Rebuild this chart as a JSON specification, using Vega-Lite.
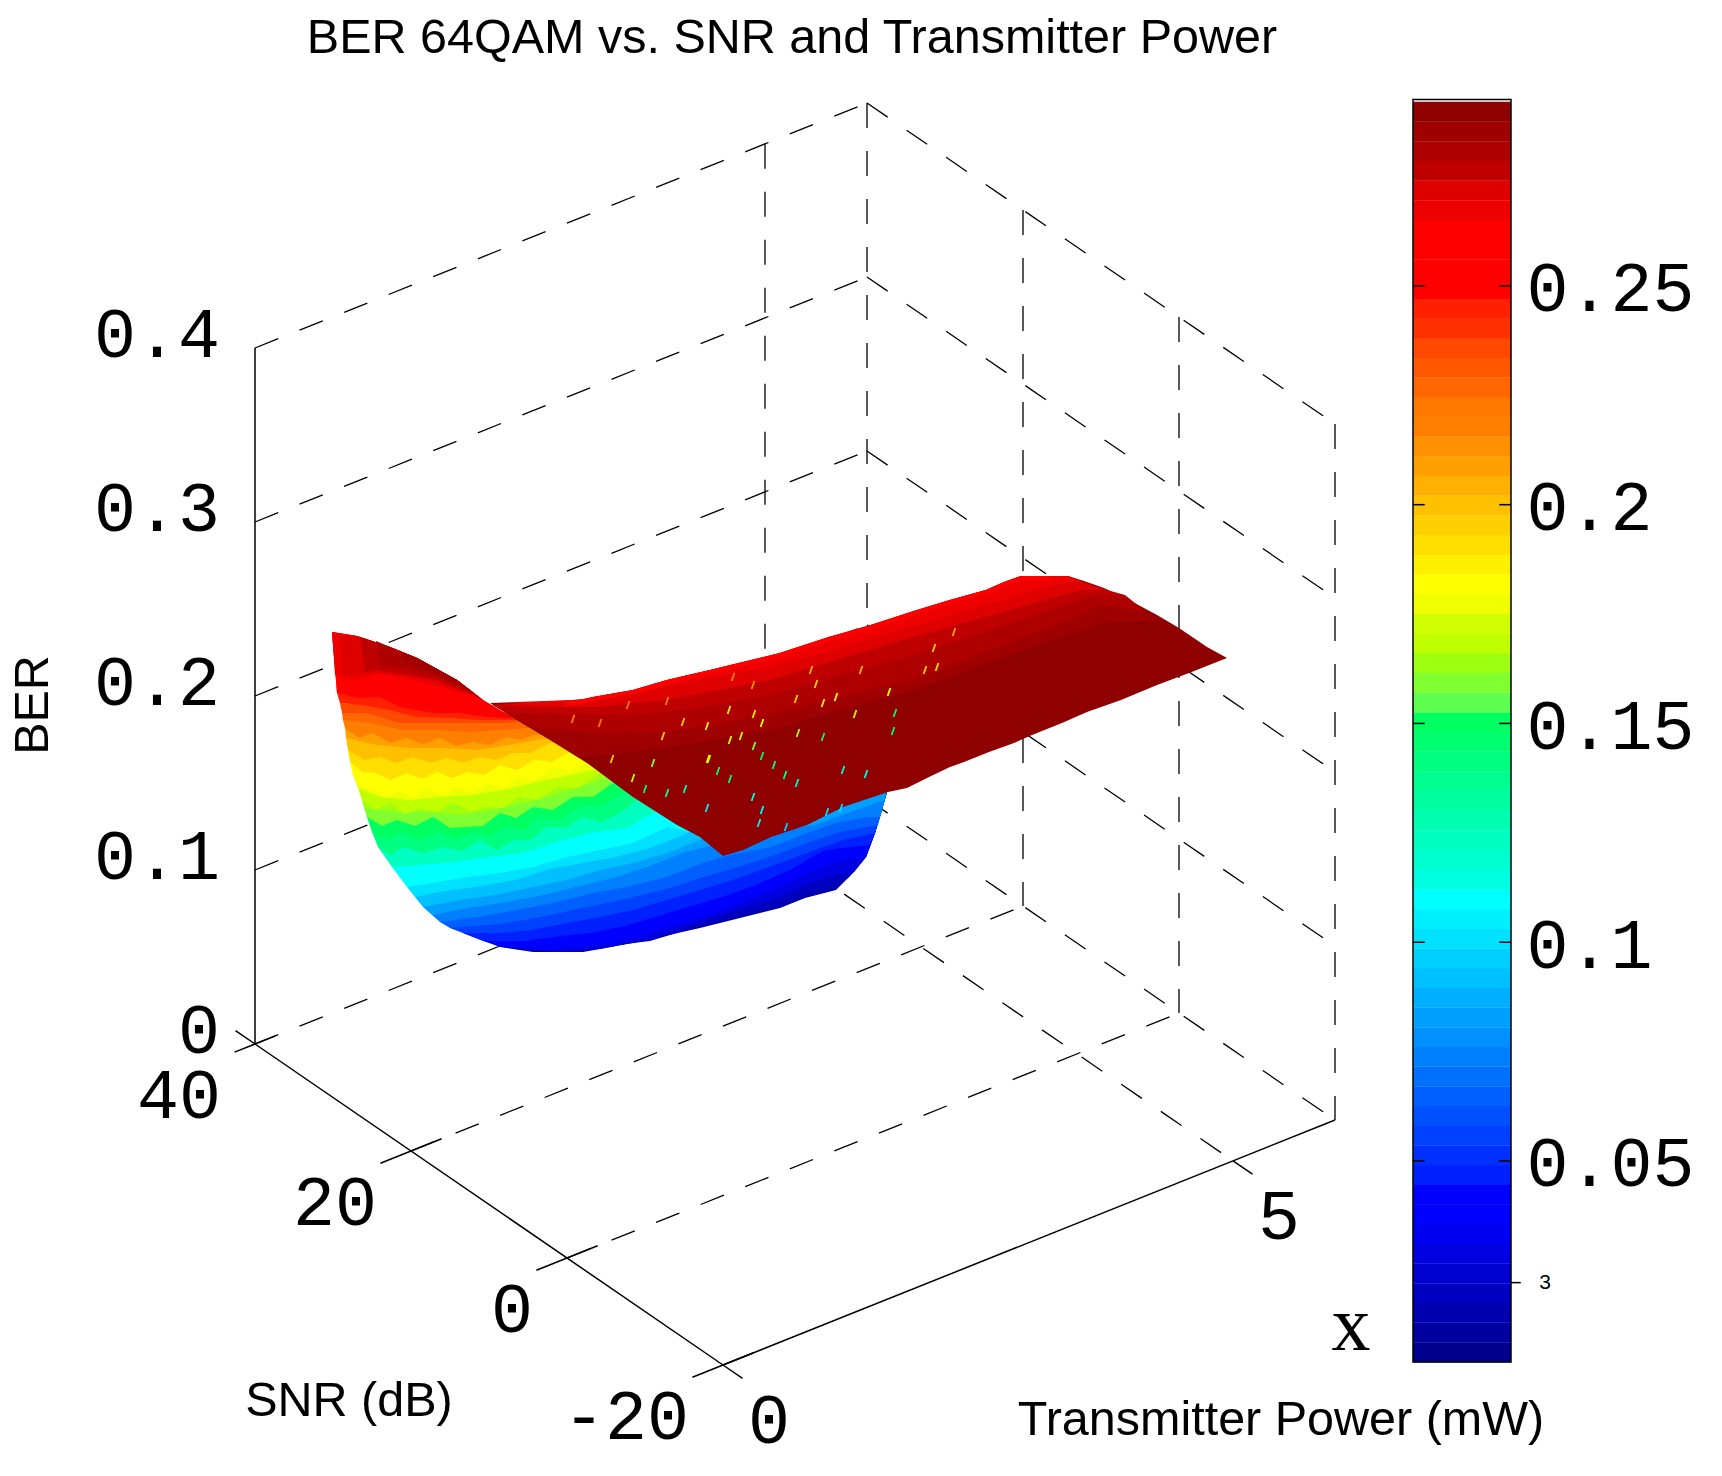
{"$schema":"https://vega.github.io/schema/vega-lite/v6.json","width":1722,"height":1476,"padding":0,"autosize":"none","background":"white","config":{"view":{"stroke":null}},
"title":{"text":"BER 64QAM vs. SNR and Transmitter Power","font":"Liberation Sans","fontSize":48.5,"fontWeight":"normal","color":"black","anchor":"middle","dx":-69,"offset":-63},
"datasets":{"frame":[
{"kind":"dash","line":"w0","power":0,"snr":40,"ber":0},{"kind":"dash","line":"w0","power":6,"snr":40,"ber":0},
{"kind":"dash","line":"w1","power":0,"snr":40,"ber":0.1},{"kind":"dash","line":"w1","power":6,"snr":40,"ber":0.1},
{"kind":"dash","line":"w2","power":0,"snr":40,"ber":0.2},{"kind":"dash","line":"w2","power":6,"snr":40,"ber":0.2},
{"kind":"dash","line":"w3","power":0,"snr":40,"ber":0.3},{"kind":"dash","line":"w3","power":6,"snr":40,"ber":0.3},
{"kind":"dash","line":"w4","power":0,"snr":40,"ber":0.4},{"kind":"dash","line":"w4","power":6,"snr":40,"ber":0.4},
{"kind":"dash","line":"r1","power":6,"snr":40,"ber":0.1},{"kind":"dash","line":"r1","power":6,"snr":-20,"ber":0.1},
{"kind":"dash","line":"r2","power":6,"snr":40,"ber":0.2},{"kind":"dash","line":"r2","power":6,"snr":-20,"ber":0.2},
{"kind":"dash","line":"r3","power":6,"snr":40,"ber":0.3},{"kind":"dash","line":"r3","power":6,"snr":-20,"ber":0.3},
{"kind":"dash","line":"r4","power":6,"snr":40,"ber":0.4},{"kind":"dash","line":"r4","power":6,"snr":-20,"ber":0.4},
{"kind":"dash","line":"v1","power":5,"snr":40,"ber":0.4},{"kind":"dash","line":"v1","power":5,"snr":40,"ber":0},
{"kind":"dash","line":"v2","power":6,"snr":40,"ber":0.4},{"kind":"dash","line":"v2","power":6,"snr":40,"ber":0},
{"kind":"dash","line":"v3","power":6,"snr":20,"ber":0.4},{"kind":"dash","line":"v3","power":6,"snr":20,"ber":0},
{"kind":"dash","line":"v4","power":6,"snr":0,"ber":0.4},{"kind":"dash","line":"v4","power":6,"snr":0,"ber":0},
{"kind":"dash","line":"v5","power":6,"snr":-20,"ber":0.4},{"kind":"dash","line":"v5","power":6,"snr":-20,"ber":0},
{"kind":"dash","line":"f1","power":0,"snr":20,"ber":0},{"kind":"dash","line":"f1","power":6,"snr":20,"ber":0},
{"kind":"dash","line":"f2","power":0,"snr":0,"ber":0},{"kind":"dash","line":"f2","power":6,"snr":0,"ber":0},
{"kind":"dash","line":"f3","power":5,"snr":40,"ber":0},{"kind":"dash","line":"f3","power":5,"snr":-20,"ber":0},
{"kind":"dash","line":"f4","power":6,"snr":40,"ber":0},{"kind":"dash","line":"f4","power":6,"snr":-20,"ber":0},
{"kind":"solid","line":"az","power":0,"snr":40,"ber":0},{"kind":"solid","line":"az","power":0,"snr":40,"ber":0.4},
{"kind":"solid","line":"as","power":0,"snr":40,"ber":0},{"kind":"solid","line":"as","power":0,"snr":-20,"ber":0},
{"kind":"solid","line":"ap","power":0,"snr":-20,"ber":0},{"kind":"solid","line":"ap","power":6,"snr":-20,"ber":0},
{"kind":"solid","line":"t1","power":-0.2,"snr":40,"ber":0},{"kind":"solid","line":"t1","power":0.2,"snr":40,"ber":0},
{"kind":"solid","line":"t2","power":-0.3,"snr":20,"ber":0},{"kind":"solid","line":"t2","power":0.3,"snr":20,"ber":0},
{"kind":"solid","line":"t3","power":-0.3,"snr":0,"ber":0},{"kind":"solid","line":"t3","power":0.3,"snr":0,"ber":0},
{"kind":"solid","line":"t4","power":-0.3,"snr":-20,"ber":0},{"kind":"solid","line":"t4","power":0.3,"snr":-20,"ber":0},
{"kind":"solid","line":"t5","power":0,"snr":42.5,"ber":0},{"kind":"solid","line":"t5","power":0,"snr":40,"ber":0},
{"kind":"solid","line":"t6","power":0,"snr":-22.5,"ber":0},{"kind":"solid","line":"t6","power":0,"snr":-20,"ber":0},
{"kind":"solid","line":"t7","power":5,"snr":-22.5,"ber":0},{"kind":"solid","line":"t7","power":5,"snr":-20,"ber":0},
{"kind":"berLabel","label":"0","power":0,"snr":40,"ber":0},{"kind":"berLabel","label":"0.1","power":0,"snr":40,"ber":0.1},{"kind":"berLabel","label":"0.2","power":0,"snr":40,"ber":0.2},{"kind":"berLabel","label":"0.3","power":0,"snr":40,"ber":0.3},{"kind":"berLabel","label":"0.4","power":0,"snr":40,"ber":0.4},
{"kind":"snrLabel","label":"40","power":0,"snr":40,"ber":0},{"kind":"snrLabel","label":"20","power":0,"snr":20,"ber":0},{"kind":"snrLabel","label":"0","power":0,"snr":0,"ber":0},{"kind":"snrLabel","label":"-20","power":0,"snr":-20,"ber":0},
{"kind":"powLabel","label":"0","power":0,"snr":-20,"ber":0},{"kind":"powLabel","label":"5","power":5,"snr":-20,"ber":0},
{"kind":"mult","label":"x","power":6,"snr":-20,"ber":0},
{"kind":"snrTitle","label":"SNR (dB)","power":0,"snr":10,"ber":0},
{"kind":"powTitle","label":"Transmitter Power (mW)","power":3,"snr":-20,"ber":0},
{"kind":"berTitle","label":"BER","power":0,"snr":40,"ber":0.2}
],
"surface":[
{"band":"b03","ber":0.0153,"px":463,"py":933},{"band":"b03","ber":0.0153,"px":500,"py":947},{"band":"b03","ber":0.0153,"px":533,"py":952},{"band":"b03","ber":0.0153,"px":583,"py":952},{"band":"b03","ber":0.0153,"px":633,"py":943},{"band":"b03","ber":0.0153,"px":700,"py":928},{"band":"b03","ber":0.0153,"px":780,"py":908},{"band":"b03","ber":0.0153,"px":805,"py":898},{"band":"b03","ber":0.0153,"px":836,"py":890},{"band":"b03","ber":0.0153,"px":854,"py":872},{"band":"b03","ber":0.0153,"px":866,"py":857},{"band":"b03","ber":0.0153,"px":875,"py":833},{"band":"b03","ber":0.0153,"px":887,"py":792},{"band":"b03","ber":0.0153,"px":887,"py":720},{"band":"b03","ber":0.0153,"px":500,"py":712},
{"band":"b04","ber":0.0198,"px":650,"py":941},{"band":"b04","ber":0.0198,"px":700,"py":926},{"band":"b04","ber":0.0198,"px":733,"py":917},{"band":"b04","ber":0.0198,"px":780,"py":904},{"band":"b04","ber":0.0198,"px":807,"py":893},{"band":"b04","ber":0.0198,"px":836,"py":885},{"band":"b04","ber":0.0198,"px":848,"py":878},{"band":"b04","ber":0.0198,"px":866,"py":857},{"band":"b04","ber":0.0198,"px":875,"py":833},{"band":"b04","ber":0.0198,"px":887,"py":792},{"band":"b04","ber":0.0198,"px":887,"py":720},{"band":"b04","ber":0.0198,"px":500,"py":712},{"band":"b04","ber":0.0198,"px":560,"py":952},
{"band":"b06","ber":0.0288,"px":560,"py":952},{"band":"b06","ber":0.0288,"px":600,"py":949},{"band":"b06","ber":0.0288,"px":650,"py":939},{"band":"b06","ber":0.0288,"px":700,"py":922},{"band":"b06","ber":0.0288,"px":733,"py":911},{"band":"b06","ber":0.0288,"px":780,"py":897},{"band":"b06","ber":0.0288,"px":807,"py":884},{"band":"b06","ber":0.0288,"px":836,"py":875},{"band":"b06","ber":0.0288,"px":854,"py":872},{"band":"b06","ber":0.0288,"px":866,"py":857},{"band":"b06","ber":0.0288,"px":875,"py":833},{"band":"b06","ber":0.0288,"px":887,"py":792},{"band":"b06","ber":0.0288,"px":887,"py":720},{"band":"b06","ber":0.0288,"px":500,"py":712},{"band":"b06","ber":0.0288,"px":503,"py":947},
{"band":"b09","ber":0.0423,"px":503,"py":947},{"band":"b09","ber":0.0423,"px":550,"py":950},{"band":"b09","ber":0.0423,"px":583,"py":947},{"band":"b09","ber":0.0423,"px":617,"py":943},{"band":"b09","ber":0.0423,"px":650,"py":933},{"band":"b09","ber":0.0423,"px":683,"py":923},{"band":"b09","ber":0.0423,"px":717,"py":913},{"band":"b09","ber":0.0423,"px":747,"py":900},{"band":"b09","ber":0.0423,"px":780,"py":887},{"band":"b09","ber":0.0423,"px":807,"py":873},{"band":"b09","ber":0.0423,"px":843,"py":860},{"band":"b09","ber":0.0423,"px":866,"py":857},{"band":"b09","ber":0.0423,"px":875,"py":833},{"band":"b09","ber":0.0423,"px":887,"py":792},{"band":"b09","ber":0.0423,"px":887,"py":720},{"band":"b09","ber":0.0423,"px":500,"py":712},{"band":"b09","ber":0.0423,"px":483,"py":941},
{"band":"b10","ber":0.0468,"px":483,"py":941},{"band":"b10","ber":0.0468,"px":525,"py":941},{"band":"b10","ber":0.0468,"px":560,"py":936},{"band":"b10","ber":0.0468,"px":590,"py":933},{"band":"b10","ber":0.0468,"px":625,"py":926},{"band":"b10","ber":0.0468,"px":658,"py":916},{"band":"b10","ber":0.0468,"px":692,"py":906},{"band":"b10","ber":0.0468,"px":725,"py":896},{"band":"b10","ber":0.0468,"px":756,"py":885},{"band":"b10","ber":0.0468,"px":790,"py":870},{"band":"b10","ber":0.0468,"px":825,"py":850},{"band":"b10","ber":0.0468,"px":870,"py":845},{"band":"b10","ber":0.0468,"px":875,"py":833},{"band":"b10","ber":0.0468,"px":887,"py":792},{"band":"b10","ber":0.0468,"px":887,"py":720},{"band":"b10","ber":0.0468,"px":500,"py":712},{"band":"b10","ber":0.0468,"px":463,"py":933},
{"band":"b12","ber":0.0558,"px":463,"py":933},{"band":"b12","ber":0.0558,"px":500,"py":933},{"band":"b12","ber":0.0558,"px":533,"py":930},{"band":"b12","ber":0.0558,"px":567,"py":923},{"band":"b12","ber":0.0558,"px":600,"py":917},{"band":"b12","ber":0.0558,"px":633,"py":910},{"band":"b12","ber":0.0558,"px":667,"py":900},{"band":"b12","ber":0.0558,"px":700,"py":890},{"band":"b12","ber":0.0558,"px":733,"py":880},{"band":"b12","ber":0.0558,"px":780,"py":863},{"band":"b12","ber":0.0558,"px":807,"py":853},{"band":"b12","ber":0.0558,"px":843,"py":840},{"band":"b12","ber":0.0558,"px":875,"py":833},{"band":"b12","ber":0.0558,"px":887,"py":792},{"band":"b12","ber":0.0558,"px":887,"py":720},{"band":"b12","ber":0.0558,"px":500,"py":712},{"band":"b12","ber":0.0558,"px":450,"py":928},
{"band":"b14","ber":0.0648,"px":450,"py":928},{"band":"b14","ber":0.0648,"px":490,"py":925},{"band":"b14","ber":0.0648,"px":525,"py":920},{"band":"b14","ber":0.0648,"px":560,"py":913},{"band":"b14","ber":0.0648,"px":597,"py":905},{"band":"b14","ber":0.0648,"px":630,"py":898},{"band":"b14","ber":0.0648,"px":667,"py":889},{"band":"b14","ber":0.0648,"px":703,"py":877},{"band":"b14","ber":0.0648,"px":735,"py":868},{"band":"b14","ber":0.0648,"px":775,"py":855},{"band":"b14","ber":0.0648,"px":807,"py":843},{"band":"b14","ber":0.0648,"px":840,"py":832},{"band":"b14","ber":0.0648,"px":878,"py":825},{"band":"b14","ber":0.0648,"px":887,"py":792},{"band":"b14","ber":0.0648,"px":887,"py":720},{"band":"b14","ber":0.0648,"px":500,"py":712},{"band":"b14","ber":0.0648,"px":440,"py":922},
{"band":"b16","ber":0.0738,"px":440,"py":922},{"band":"b16","ber":0.0738,"px":477,"py":917},{"band":"b16","ber":0.0738,"px":517,"py":910},{"band":"b16","ber":0.0738,"px":553,"py":903},{"band":"b16","ber":0.0738,"px":593,"py":893},{"band":"b16","ber":0.0738,"px":627,"py":887},{"band":"b16","ber":0.0738,"px":667,"py":877},{"band":"b16","ber":0.0738,"px":703,"py":863},{"band":"b16","ber":0.0738,"px":730,"py":855},{"band":"b16","ber":0.0738,"px":771,"py":847},{"band":"b16","ber":0.0738,"px":807,"py":833},{"band":"b16","ber":0.0738,"px":836,"py":823},{"band":"b16","ber":0.0738,"px":868,"py":817},{"band":"b16","ber":0.0738,"px":880,"py":817},{"band":"b16","ber":0.0738,"px":887,"py":792},{"band":"b16","ber":0.0738,"px":887,"py":720},{"band":"b16","ber":0.0738,"px":500,"py":712},{"band":"b16","ber":0.0738,"px":432,"py":915},
{"band":"b18","ber":0.0828,"px":432,"py":915},{"band":"b18","ber":0.0828,"px":468,"py":908},{"band":"b18","ber":0.0828,"px":507,"py":902},{"band":"b18","ber":0.0828,"px":543,"py":895},{"band":"b18","ber":0.0828,"px":580,"py":886},{"band":"b18","ber":0.0828,"px":613,"py":878},{"band":"b18","ber":0.0828,"px":650,"py":866},{"band":"b18","ber":0.0828,"px":685,"py":852},{"band":"b18","ber":0.0828,"px":715,"py":845},{"band":"b18","ber":0.0828,"px":771,"py":832},{"band":"b18","ber":0.0828,"px":815,"py":825},{"band":"b18","ber":0.0828,"px":850,"py":812},{"band":"b18","ber":0.0828,"px":885,"py":800},{"band":"b18","ber":0.0828,"px":887,"py":720},{"band":"b18","ber":0.0828,"px":500,"py":712},{"band":"b18","ber":0.0828,"px":423,"py":907},
{"band":"b20","ber":0.0918,"px":423,"py":907},{"band":"b20","ber":0.0918,"px":460,"py":900},{"band":"b20","ber":0.0918,"px":497,"py":895},{"band":"b20","ber":0.0918,"px":533,"py":887},{"band":"b20","ber":0.0918,"px":567,"py":880},{"band":"b20","ber":0.0918,"px":600,"py":870},{"band":"b20","ber":0.0918,"px":633,"py":863},{"band":"b20","ber":0.0918,"px":667,"py":853},{"band":"b20","ber":0.0918,"px":700,"py":840},{"band":"b20","ber":0.0918,"px":887,"py":720},{"band":"b20","ber":0.0918,"px":500,"py":712},{"band":"b20","ber":0.0918,"px":415,"py":897},
{"band":"b22","ber":0.1008,"px":415,"py":897},{"band":"b22","ber":0.1008,"px":446,"py":891},{"band":"b22","ber":0.1008,"px":482,"py":886},{"band":"b22","ber":0.1008,"px":516,"py":880},{"band":"b22","ber":0.1008,"px":550,"py":869},{"band":"b22","ber":0.1008,"px":583,"py":863},{"band":"b22","ber":0.1008,"px":616,"py":857},{"band":"b22","ber":0.1008,"px":650,"py":848},{"band":"b22","ber":0.1008,"px":684,"py":835},{"band":"b22","ber":0.1008,"px":887,"py":720},{"band":"b22","ber":0.1008,"px":500,"py":712},{"band":"b22","ber":0.1008,"px":407,"py":887},
{"band":"b24","ber":0.1098,"px":407,"py":887},{"band":"b24","ber":0.1098,"px":433,"py":883},{"band":"b24","ber":0.1098,"px":467,"py":877},{"band":"b24","ber":0.1098,"px":500,"py":873},{"band":"b24","ber":0.1098,"px":533,"py":867},{"band":"b24","ber":0.1098,"px":567,"py":857},{"band":"b24","ber":0.1098,"px":600,"py":850},{"band":"b24","ber":0.1098,"px":633,"py":843},{"band":"b24","ber":0.1098,"px":667,"py":827},{"band":"b24","ber":0.1098,"px":690,"py":832},{"band":"b24","ber":0.1098,"px":887,"py":720},{"band":"b24","ber":0.1098,"px":500,"py":712},{"band":"b24","ber":0.1098,"px":392,"py":867},
{"band":"b27","ber":0.1233,"px":392,"py":867},{"band":"b27","ber":0.1233,"px":420,"py":865},{"band":"b27","ber":0.1233,"px":455,"py":862},{"band":"b27","ber":0.1233,"px":490,"py":857},{"band":"b27","ber":0.1233,"px":523,"py":853},{"band":"b27","ber":0.1233,"px":557,"py":842},{"band":"b27","ber":0.1233,"px":590,"py":833},{"band":"b27","ber":0.1233,"px":627,"py":828},{"band":"b27","ber":0.1233,"px":655,"py":812},{"band":"b27","ber":0.1233,"px":887,"py":720},{"band":"b27","ber":0.1233,"px":500,"py":712},{"band":"b27","ber":0.1233,"px":378,"py":847},
{"band":"b31","ber":0.1413,"px":378,"py":847},{"band":"b31","ber":0.1413,"px":390,"py":855},{"band":"b31","ber":0.1413,"px":403,"py":847},{"band":"b31","ber":0.1413,"px":423,"py":853},{"band":"b31","ber":0.1413,"px":443,"py":847},{"band":"b31","ber":0.1413,"px":462,"py":851},{"band":"b31","ber":0.1413,"px":480,"py":840},{"band":"b31","ber":0.1413,"px":497,"py":850},{"band":"b31","ber":0.1413,"px":513,"py":840},{"band":"b31","ber":0.1413,"px":530,"py":840},{"band":"b31","ber":0.1413,"px":547,"py":827},{"band":"b31","ber":0.1413,"px":565,"py":828},{"band":"b31","ber":0.1413,"px":583,"py":817},{"band":"b31","ber":0.1413,"px":601,"py":822},{"band":"b31","ber":0.1413,"px":620,"py":813},{"band":"b31","ber":0.1413,"px":637,"py":800},{"band":"b31","ber":0.1413,"px":887,"py":720},{"band":"b31","ber":0.1413,"px":500,"py":712},{"band":"b31","ber":0.1413,"px":372,"py":832},
{"band":"b33","ber":0.1503,"px":372,"py":832},{"band":"b33","ber":0.1503,"px":386,"py":840},{"band":"b33","ber":0.1503,"px":400,"py":833},{"band":"b33","ber":0.1503,"px":419,"py":840},{"band":"b33","ber":0.1503,"px":438,"py":832},{"band":"b33","ber":0.1503,"px":455,"py":840},{"band":"b33","ber":0.1503,"px":473,"py":833},{"band":"b33","ber":0.1503,"px":490,"py":836},{"band":"b33","ber":0.1503,"px":507,"py":827},{"band":"b33","ber":0.1503,"px":523,"py":830},{"band":"b33","ber":0.1503,"px":540,"py":817},{"band":"b33","ber":0.1503,"px":559,"py":820},{"band":"b33","ber":0.1503,"px":578,"py":807},{"band":"b33","ber":0.1503,"px":601,"py":806},{"band":"b33","ber":0.1503,"px":625,"py":792},{"band":"b33","ber":0.1503,"px":887,"py":720},{"band":"b33","ber":0.1503,"px":500,"py":712},{"band":"b33","ber":0.1503,"px":367,"py":817},
{"band":"b35","ber":0.1593,"px":367,"py":817},{"band":"b35","ber":0.1593,"px":382,"py":826},{"band":"b35","ber":0.1593,"px":397,"py":820},{"band":"b35","ber":0.1593,"px":415,"py":826},{"band":"b35","ber":0.1593,"px":433,"py":817},{"band":"b35","ber":0.1593,"px":450,"py":828},{"band":"b35","ber":0.1593,"px":467,"py":827},{"band":"b35","ber":0.1593,"px":483,"py":826},{"band":"b35","ber":0.1593,"px":500,"py":813},{"band":"b35","ber":0.1593,"px":516,"py":818},{"band":"b35","ber":0.1593,"px":533,"py":807},{"band":"b35","ber":0.1593,"px":553,"py":810},{"band":"b35","ber":0.1593,"px":573,"py":797},{"band":"b35","ber":0.1593,"px":593,"py":797},{"band":"b35","ber":0.1593,"px":613,"py":783},{"band":"b35","ber":0.1593,"px":887,"py":720},{"band":"b35","ber":0.1593,"px":500,"py":712},{"band":"b35","ber":0.1593,"px":364,"py":808},
{"band":"b36","ber":0.1638,"px":364,"py":808},{"band":"b36","ber":0.1638,"px":393,"py":812},{"band":"b36","ber":0.1638,"px":427,"py":812},{"band":"b36","ber":0.1638,"px":460,"py":815},{"band":"b36","ber":0.1638,"px":493,"py":810},{"band":"b36","ber":0.1638,"px":527,"py":802},{"band":"b36","ber":0.1638,"px":565,"py":792},{"band":"b36","ber":0.1638,"px":606,"py":778},{"band":"b36","ber":0.1638,"px":887,"py":720},{"band":"b36","ber":0.1638,"px":500,"py":712},{"band":"b36","ber":0.1638,"px":362,"py":800},
{"band":"b37","ber":0.1683,"px":362,"py":800},{"band":"b37","ber":0.1683,"px":376,"py":810},{"band":"b37","ber":0.1683,"px":390,"py":803},{"band":"b37","ber":0.1683,"px":405,"py":814},{"band":"b37","ber":0.1683,"px":420,"py":808},{"band":"b37","ber":0.1683,"px":436,"py":812},{"band":"b37","ber":0.1683,"px":453,"py":803},{"band":"b37","ber":0.1683,"px":470,"py":812},{"band":"b37","ber":0.1683,"px":487,"py":807},{"band":"b37","ber":0.1683,"px":503,"py":808},{"band":"b37","ber":0.1683,"px":520,"py":797},{"band":"b37","ber":0.1683,"px":538,"py":800},{"band":"b37","ber":0.1683,"px":557,"py":787},{"band":"b37","ber":0.1683,"px":578,"py":788},{"band":"b37","ber":0.1683,"px":600,"py":773},{"band":"b37","ber":0.1683,"px":887,"py":720},{"band":"b37","ber":0.1683,"px":500,"py":712},{"band":"b37","ber":0.1683,"px":358,"py":788},
{"band":"b39","ber":0.1773,"px":358,"py":788},{"band":"b39","ber":0.1773,"px":380,"py":797},{"band":"b39","ber":0.1773,"px":410,"py":800},{"band":"b39","ber":0.1773,"px":440,"py":797},{"band":"b39","ber":0.1773,"px":472,"py":795},{"band":"b39","ber":0.1773,"px":503,"py":790},{"band":"b39","ber":0.1773,"px":537,"py":782},{"band":"b39","ber":0.1773,"px":594,"py":770},{"band":"b39","ber":0.1773,"px":887,"py":720},{"band":"b39","ber":0.1773,"px":500,"py":712},{"band":"b39","ber":0.1773,"px":353,"py":775},
{"band":"b40","ber":0.1818,"px":353,"py":775},{"band":"b40","ber":0.1818,"px":361,"py":787},{"band":"b40","ber":0.1818,"px":370,"py":790},{"band":"b40","ber":0.1818,"px":385,"py":798},{"band":"b40","ber":0.1818,"px":400,"py":790},{"band":"b40","ber":0.1818,"px":413,"py":798},{"band":"b40","ber":0.1818,"px":427,"py":787},{"band":"b40","ber":0.1818,"px":442,"py":796},{"band":"b40","ber":0.1818,"px":457,"py":787},{"band":"b40","ber":0.1818,"px":472,"py":792},{"band":"b40","ber":0.1818,"px":487,"py":783},{"band":"b40","ber":0.1818,"px":502,"py":788},{"band":"b40","ber":0.1818,"px":517,"py":777},{"band":"b40","ber":0.1818,"px":535,"py":780},{"band":"b40","ber":0.1818,"px":553,"py":767},{"band":"b40","ber":0.1818,"px":570,"py":771},{"band":"b40","ber":0.1818,"px":587,"py":763},{"band":"b40","ber":0.1818,"px":887,"py":720},{"band":"b40","ber":0.1818,"px":500,"py":712},{"band":"b40","ber":0.1818,"px":350,"py":762},
{"band":"b42","ber":0.1908,"px":350,"py":762},{"band":"b42","ber":0.1908,"px":362,"py":772},{"band":"b42","ber":0.1908,"px":375,"py":773},{"band":"b42","ber":0.1908,"px":391,"py":780},{"band":"b42","ber":0.1908,"px":407,"py":773},{"band":"b42","ber":0.1908,"px":422,"py":779},{"band":"b42","ber":0.1908,"px":437,"py":772},{"band":"b42","ber":0.1908,"px":452,"py":778},{"band":"b42","ber":0.1908,"px":468,"py":772},{"band":"b42","ber":0.1908,"px":484,"py":775},{"band":"b42","ber":0.1908,"px":500,"py":765},{"band":"b42","ber":0.1908,"px":517,"py":770},{"band":"b42","ber":0.1908,"px":535,"py":760},{"band":"b42","ber":0.1908,"px":552,"py":762},{"band":"b42","ber":0.1908,"px":570,"py":752},{"band":"b42","ber":0.1908,"px":887,"py":720},{"band":"b42","ber":0.1908,"px":500,"py":712},{"band":"b42","ber":0.1908,"px":348,"py":750},
{"band":"b44","ber":0.1998,"px":348,"py":750},{"band":"b44","ber":0.1998,"px":364,"py":760},{"band":"b44","ber":0.1998,"px":380,"py":757},{"band":"b44","ber":0.1998,"px":396,"py":763},{"band":"b44","ber":0.1998,"px":413,"py":757},{"band":"b44","ber":0.1998,"px":430,"py":763},{"band":"b44","ber":0.1998,"px":447,"py":758},{"band":"b44","ber":0.1998,"px":463,"py":763},{"band":"b44","ber":0.1998,"px":480,"py":757},{"band":"b44","ber":0.1998,"px":496,"py":760},{"band":"b44","ber":0.1998,"px":513,"py":753},{"band":"b44","ber":0.1998,"px":531,"py":753},{"band":"b44","ber":0.1998,"px":550,"py":743},{"band":"b44","ber":0.1998,"px":887,"py":720},{"band":"b44","ber":0.1998,"px":500,"py":712},{"band":"b44","ber":0.1998,"px":346,"py":738},
{"band":"b46","ber":0.2088,"px":346,"py":738},{"band":"b46","ber":0.2088,"px":377,"py":745},{"band":"b46","ber":0.2088,"px":410,"py":748},{"band":"b46","ber":0.2088,"px":443,"py":748},{"band":"b46","ber":0.2088,"px":477,"py":750},{"band":"b46","ber":0.2088,"px":510,"py":745},{"band":"b46","ber":0.2088,"px":542,"py":739},{"band":"b46","ber":0.2088,"px":887,"py":720},{"band":"b46","ber":0.2088,"px":500,"py":712},{"band":"b46","ber":0.2088,"px":345,"py":728},
{"band":"b48","ber":0.2178,"px":345,"py":728},{"band":"b48","ber":0.2178,"px":359,"py":738},{"band":"b48","ber":0.2178,"px":373,"py":733},{"band":"b48","ber":0.2178,"px":390,"py":743},{"band":"b48","ber":0.2178,"px":407,"py":738},{"band":"b48","ber":0.2178,"px":423,"py":744},{"band":"b48","ber":0.2178,"px":440,"py":738},{"band":"b48","ber":0.2178,"px":456,"py":746},{"band":"b48","ber":0.2178,"px":473,"py":742},{"band":"b48","ber":0.2178,"px":490,"py":745},{"band":"b48","ber":0.2178,"px":507,"py":737},{"band":"b48","ber":0.2178,"px":520,"py":740},{"band":"b48","ber":0.2178,"px":533,"py":735},{"band":"b48","ber":0.2178,"px":887,"py":720},{"band":"b48","ber":0.2178,"px":500,"py":712},{"band":"b48","ber":0.2178,"px":343,"py":720},
{"band":"b50","ber":0.2268,"px":343,"py":720},{"band":"b50","ber":0.2268,"px":370,"py":723},{"band":"b50","ber":0.2268,"px":403,"py":730},{"band":"b50","ber":0.2268,"px":437,"py":730},{"band":"b50","ber":0.2268,"px":470,"py":732},{"band":"b50","ber":0.2268,"px":503,"py":730},{"band":"b50","ber":0.2268,"px":527,"py":728},{"band":"b50","ber":0.2268,"px":887,"py":720},{"band":"b50","ber":0.2268,"px":500,"py":712},{"band":"b50","ber":0.2268,"px":342,"py":713},
{"band":"b52","ber":0.2358,"px":342,"py":713},{"band":"b52","ber":0.2358,"px":367,"py":713},{"band":"b52","ber":0.2358,"px":400,"py":723},{"band":"b52","ber":0.2358,"px":433,"py":723},{"band":"b52","ber":0.2358,"px":467,"py":723},{"band":"b52","ber":0.2358,"px":500,"py":723},{"band":"b52","ber":0.2358,"px":520,"py":722},{"band":"b52","ber":0.2358,"px":887,"py":720},{"band":"b52","ber":0.2358,"px":500,"py":712},{"band":"b52","ber":0.2358,"px":340,"py":703},
{"band":"b54","ber":0.2448,"px":340,"py":703},{"band":"b54","ber":0.2448,"px":362,"py":705},{"band":"b54","ber":0.2448,"px":390,"py":710},{"band":"b54","ber":0.2448,"px":417,"py":717},{"band":"b54","ber":0.2448,"px":450,"py":718},{"band":"b54","ber":0.2448,"px":480,"py":720},{"band":"b54","ber":0.2448,"px":517,"py":720},{"band":"b54","ber":0.2448,"px":483,"py":700},{"band":"b54","ber":0.2448,"px":457,"py":680},{"band":"b54","ber":0.2448,"px":417,"py":658},{"band":"b54","ber":0.2448,"px":390,"py":647},{"band":"b54","ber":0.2448,"px":357,"py":636},{"band":"b54","ber":0.2448,"px":332,"py":632},{"band":"b54","ber":0.2448,"px":337,"py":693},
{"band":"b55","ber":0.2493,"px":337,"py":693},{"band":"b55","ber":0.2493,"px":358,"py":698},{"band":"b55","ber":0.2493,"px":380,"py":697},{"band":"b55","ber":0.2493,"px":400,"py":707},{"band":"b55","ber":0.2493,"px":433,"py":713},{"band":"b55","ber":0.2493,"px":460,"py":713},{"band":"b55","ber":0.2493,"px":487,"py":717},{"band":"b55","ber":0.2493,"px":513,"py":718},{"band":"b55","ber":0.2493,"px":483,"py":700},{"band":"b55","ber":0.2493,"px":457,"py":680},{"band":"b55","ber":0.2493,"px":417,"py":658},{"band":"b55","ber":0.2493,"px":390,"py":647},{"band":"b55","ber":0.2493,"px":357,"py":636},{"band":"b55","ber":0.2493,"px":332,"py":632},
{"band":"b59","ber":0.2673,"px":335,"py":675},{"band":"b59","ber":0.2673,"px":357,"py":681},{"band":"b59","ber":0.2673,"px":377,"py":673},{"band":"b59","ber":0.2673,"px":400,"py":678},{"band":"b59","ber":0.2673,"px":433,"py":685},{"band":"b59","ber":0.2673,"px":467,"py":695},{"band":"b59","ber":0.2673,"px":483,"py":700},{"band":"b59","ber":0.2673,"px":457,"py":680},{"band":"b59","ber":0.2673,"px":417,"py":658},{"band":"b59","ber":0.2673,"px":390,"py":647},{"band":"b59","ber":0.2673,"px":357,"py":636},{"band":"b59","ber":0.2673,"px":332,"py":632},
{"band":"b60","ber":0.2718,"px":340,"py":636},{"band":"b60","ber":0.2718,"px":343,"py":676},{"band":"b60","ber":0.2718,"px":377,"py":673},{"band":"b60","ber":0.2718,"px":400,"py":675},{"band":"b60","ber":0.2718,"px":433,"py":682},{"band":"b60","ber":0.2718,"px":467,"py":693},{"band":"b60","ber":0.2718,"px":483,"py":700},{"band":"b60","ber":0.2718,"px":457,"py":680},{"band":"b60","ber":0.2718,"px":417,"py":658},{"band":"b60","ber":0.2718,"px":390,"py":647},{"band":"b60","ber":0.2718,"px":357,"py":636},
{"band":"b61","ber":0.2763,"px":360,"py":637},{"band":"b61","ber":0.2763,"px":365,"py":672},{"band":"b61","ber":0.2763,"px":377,"py":670},{"band":"b61","ber":0.2763,"px":400,"py":674},{"band":"b61","ber":0.2763,"px":433,"py":679},{"band":"b61","ber":0.2763,"px":470,"py":693},{"band":"b61","ber":0.2763,"px":483,"py":700},{"band":"b61","ber":0.2763,"px":457,"py":680},{"band":"b61","ber":0.2763,"px":417,"py":658},{"band":"b61","ber":0.2763,"px":390,"py":647},
{"band":"b62","ber":0.2808,"px":376,"py":641},{"band":"b62","ber":0.2808,"px":380,"py":665},{"band":"b62","ber":0.2808,"px":400,"py":668},{"band":"b62","ber":0.2808,"px":433,"py":675},{"band":"b62","ber":0.2808,"px":470,"py":691},{"band":"b62","ber":0.2808,"px":483,"py":700},{"band":"b62","ber":0.2808,"px":457,"py":680},{"band":"b62","ber":0.2808,"px":417,"py":658},{"band":"b62","ber":0.2808,"px":390,"py":647},
{"band":"b63","ber":0.2853,"px":400,"py":651},{"band":"b63","ber":0.2853,"px":405,"py":662},{"band":"b63","ber":0.2853,"px":433,"py":672},{"band":"b63","ber":0.2853,"px":470,"py":690},{"band":"b63","ber":0.2853,"px":483,"py":700},{"band":"b63","ber":0.2853,"px":457,"py":680},{"band":"b63","ber":0.2853,"px":417,"py":658},
{"band":"s64","ber":0.2898,"px":490,"py":703},{"band":"s64","ber":0.2898,"px":567,"py":703},{"band":"s64","ber":0.2898,"px":593,"py":697},{"band":"s64","ber":0.2898,"px":633,"py":690},{"band":"s64","ber":0.2898,"px":667,"py":680},{"band":"s64","ber":0.2898,"px":710,"py":670},{"band":"s64","ber":0.2898,"px":743,"py":662},{"band":"s64","ber":0.2898,"px":780,"py":653},{"band":"s64","ber":0.2898,"px":829,"py":637},{"band":"s64","ber":0.2898,"px":871,"py":625},{"band":"s64","ber":0.2898,"px":914,"py":611},{"band":"s64","ber":0.2898,"px":950,"py":600},{"band":"s64","ber":0.2898,"px":986,"py":590},{"band":"s64","ber":0.2898,"px":1004,"py":582},{"band":"s64","ber":0.2898,"px":1021,"py":576},{"band":"s64","ber":0.2898,"px":1068,"py":576},{"band":"s64","ber":0.2898,"px":1084,"py":581},{"band":"s64","ber":0.2898,"px":1104,"py":588},{"band":"s64","ber":0.2898,"px":1129,"py":600},{"band":"s64","ber":0.2898,"px":1157,"py":615},{"band":"s64","ber":0.2898,"px":1179,"py":628},{"band":"s64","ber":0.2898,"px":1207,"py":647},{"band":"s64","ber":0.2898,"px":1227,"py":658},{"band":"s64","ber":0.2898,"px":1189,"py":673},{"band":"s64","ber":0.2898,"px":1157,"py":685},{"band":"s64","ber":0.2898,"px":1121,"py":700},{"band":"s64","ber":0.2898,"px":1087,"py":712},{"band":"s64","ber":0.2898,"px":1062,"py":723},{"band":"s64","ber":0.2898,"px":1032,"py":735},{"band":"s64","ber":0.2898,"px":1014,"py":743},{"band":"s64","ber":0.2898,"px":989,"py":752},{"band":"s64","ber":0.2898,"px":964,"py":762},{"band":"s64","ber":0.2898,"px":950,"py":767},{"band":"s64","ber":0.2898,"px":929,"py":777},{"band":"s64","ber":0.2898,"px":907,"py":788},{"band":"s64","ber":0.2898,"px":888,"py":792},{"band":"s64","ber":0.2898,"px":843,"py":807},{"band":"s64","ber":0.2898,"px":807,"py":825},{"band":"s64","ber":0.2898,"px":771,"py":837},{"band":"s64","ber":0.2898,"px":743,"py":850},{"band":"s64","ber":0.2898,"px":723,"py":856},{"band":"s64","ber":0.2898,"px":700,"py":837},{"band":"s64","ber":0.2898,"px":677,"py":825},{"band":"s64","ber":0.2898,"px":633,"py":797},{"band":"s64","ber":0.2898,"px":587,"py":763},{"band":"s64","ber":0.2898,"px":550,"py":740},{"band":"s64","ber":0.2898,"px":520,"py":722},
{"band":"s63","ber":0.2853,"px":578,"py":757},{"band":"s63","ber":0.2853,"px":633,"py":752},{"band":"s63","ber":0.2853,"px":700,"py":742},{"band":"s63","ber":0.2853,"px":771,"py":730},{"band":"s63","ber":0.2853,"px":840,"py":710},{"band":"s63","ber":0.2853,"px":914,"py":690},{"band":"s63","ber":0.2853,"px":1057,"py":638},{"band":"s63","ber":0.2853,"px":1104,"py":623},{"band":"s63","ber":0.2853,"px":1164,"py":620},{"band":"s63","ber":0.2853,"px":1146,"py":612},{"band":"s63","ber":0.2853,"px":1100,"py":605},{"band":"s63","ber":0.2853,"px":1057,"py":625},{"band":"s63","ber":0.2853,"px":914,"py":680},{"band":"s63","ber":0.2853,"px":843,"py":697},{"band":"s63","ber":0.2853,"px":771,"py":714},{"band":"s63","ber":0.2853,"px":733,"py":722},{"band":"s63","ber":0.2853,"px":667,"py":732},{"band":"s63","ber":0.2853,"px":600,"py":733},{"band":"s63","ber":0.2853,"px":533,"py":728},
{"band":"s62","ber":0.2808,"px":533,"py":728},{"band":"s62","ber":0.2808,"px":600,"py":733},{"band":"s62","ber":0.2808,"px":667,"py":732},{"band":"s62","ber":0.2808,"px":733,"py":722},{"band":"s62","ber":0.2808,"px":771,"py":714},{"band":"s62","ber":0.2808,"px":843,"py":697},{"band":"s62","ber":0.2808,"px":914,"py":680},{"band":"s62","ber":0.2808,"px":1057,"py":625},{"band":"s62","ber":0.2808,"px":1100,"py":605},{"band":"s62","ber":0.2808,"px":1146,"py":612},{"band":"s62","ber":0.2808,"px":1125,"py":595},{"band":"s62","ber":0.2808,"px":1093,"py":595},{"band":"s62","ber":0.2808,"px":1057,"py":608},{"band":"s62","ber":0.2808,"px":914,"py":655},{"band":"s62","ber":0.2808,"px":843,"py":675},{"band":"s62","ber":0.2808,"px":771,"py":695},{"band":"s62","ber":0.2808,"px":700,"py":708},{"band":"s62","ber":0.2808,"px":633,"py":715},{"band":"s62","ber":0.2808,"px":567,"py":715},{"band":"s62","ber":0.2808,"px":507,"py":713},
{"band":"s61","ber":0.2763,"px":507,"py":713},{"band":"s61","ber":0.2763,"px":567,"py":715},{"band":"s61","ber":0.2763,"px":633,"py":715},{"band":"s61","ber":0.2763,"px":700,"py":708},{"band":"s61","ber":0.2763,"px":771,"py":695},{"band":"s61","ber":0.2763,"px":843,"py":675},{"band":"s61","ber":0.2763,"px":914,"py":655},{"band":"s61","ber":0.2763,"px":1057,"py":608},{"band":"s61","ber":0.2763,"px":1093,"py":595},{"band":"s61","ber":0.2763,"px":1125,"py":595},{"band":"s61","ber":0.2763,"px":1107,"py":590},{"band":"s61","ber":0.2763,"px":1082,"py":590},{"band":"s61","ber":0.2763,"px":1057,"py":597},{"band":"s61","ber":0.2763,"px":914,"py":637},{"band":"s61","ber":0.2763,"px":843,"py":658},{"band":"s61","ber":0.2763,"px":771,"py":680},{"band":"s61","ber":0.2763,"px":733,"py":688},{"band":"s61","ber":0.2763,"px":667,"py":700},{"band":"s61","ber":0.2763,"px":600,"py":707},{"band":"s61","ber":0.2763,"px":533,"py":707},{"band":"s61","ber":0.2763,"px":492,"py":705},
{"band":"s60","ber":0.2718,"px":492,"py":705},{"band":"s60","ber":0.2718,"px":533,"py":707},{"band":"s60","ber":0.2718,"px":600,"py":707},{"band":"s60","ber":0.2718,"px":667,"py":700},{"band":"s60","ber":0.2718,"px":733,"py":688},{"band":"s60","ber":0.2718,"px":771,"py":680},{"band":"s60","ber":0.2718,"px":843,"py":658},{"band":"s60","ber":0.2718,"px":914,"py":637},{"band":"s60","ber":0.2718,"px":1057,"py":597},{"band":"s60","ber":0.2718,"px":1082,"py":590},{"band":"s60","ber":0.2718,"px":1107,"py":590},{"band":"s60","ber":0.2718,"px":1086,"py":583},{"band":"s60","ber":0.2718,"px":1071,"py":582},{"band":"s60","ber":0.2718,"px":1057,"py":585},{"band":"s60","ber":0.2718,"px":914,"py":627},{"band":"s60","ber":0.2718,"px":843,"py":648},{"band":"s60","ber":0.2718,"px":771,"py":668},{"band":"s60","ber":0.2718,"px":700,"py":680},{"band":"s60","ber":0.2718,"px":633,"py":695},{"band":"s60","ber":0.2718,"px":573,"py":700},
{"band":"s59","ber":0.2673,"px":490,"py":703},{"band":"s59","ber":0.2673,"px":567,"py":703},{"band":"s59","ber":0.2673,"px":593,"py":697},{"band":"s59","ber":0.2673,"px":633,"py":690},{"band":"s59","ber":0.2673,"px":667,"py":680},{"band":"s59","ber":0.2673,"px":710,"py":670},{"band":"s59","ber":0.2673,"px":743,"py":662},{"band":"s59","ber":0.2673,"px":780,"py":653},{"band":"s59","ber":0.2673,"px":829,"py":637},{"band":"s59","ber":0.2673,"px":871,"py":625},{"band":"s59","ber":0.2673,"px":914,"py":611},{"band":"s59","ber":0.2673,"px":950,"py":600},{"band":"s59","ber":0.2673,"px":986,"py":590},{"band":"s59","ber":0.2673,"px":1004,"py":582},{"band":"s59","ber":0.2673,"px":1021,"py":576},{"band":"s59","ber":0.2673,"px":1068,"py":576},{"band":"s59","ber":0.2673,"px":1086,"py":583},{"band":"s59","ber":0.2673,"px":1071,"py":582},{"band":"s59","ber":0.2673,"px":1057,"py":585},{"band":"s59","ber":0.2673,"px":914,"py":627},{"band":"s59","ber":0.2673,"px":843,"py":648},{"band":"s59","ber":0.2673,"px":771,"py":668},{"band":"s59","ber":0.2673,"px":700,"py":680},{"band":"s59","ber":0.2673,"px":633,"py":695},{"band":"s59","ber":0.2673,"px":573,"py":700}
],
"edge":[{"ber":0.2493,"px":567,"py":705},{"ber":0.2493,"px":593,"py":699},{"ber":0.2493,"px":633,"py":692},{"ber":0.2493,"px":667,"py":682},{"ber":0.2493,"px":710,"py":672},{"ber":0.2493,"px":743,"py":664},{"ber":0.2493,"px":780,"py":655},{"ber":0.2493,"px":829,"py":639},{"ber":0.2493,"px":871,"py":627},{"ber":0.2493,"px":914,"py":613},{"ber":0.2493,"px":950,"py":602},{"ber":0.2493,"px":986,"py":592},{"ber":0.2493,"px":1004,"py":584},{"ber":0.2493,"px":1021,"py":578},{"ber":0.2493,"px":1050,"py":578}],
"specks":[{"px":811,"py":670,"ber":0.2043},{"px":861,"py":670,"ber":0.2043},{"px":925,"py":670,"ber":0.1953},{"px":937,"py":667,"ber":0.1908},{"px":816,"py":684,"ber":0.1953},{"px":796,"py":699,"ber":0.1953},{"px":823,"py":703,"ber":0.1863},{"px":855,"py":714,"ber":0.1683},{"px":836,"py":697,"ber":0.1818},{"px":729,"py":710,"ber":0.1863},{"px":754,"py":714,"ber":0.1863},{"px":707,"py":726,"ber":0.1863},{"px":762,"py":723,"ber":0.1818},{"px":730,"py":740,"ber":0.1728},{"px":741,"py":736,"ber":0.1728},{"px":798,"py":733,"ber":0.1638},{"px":754,"py":746,"ber":0.1593},{"px":823,"py":737,"ber":0.1503},{"px":762,"py":756,"ber":0.1503},{"px":774,"py":765,"ber":0.1368},{"px":709,"py":759,"ber":0.1638},{"px":718,"py":771,"ber":0.1458},{"px":730,"py":779,"ber":0.1413},{"px":785,"py":775,"ber":0.1368},{"px":797,"py":783,"ber":0.1188},{"px":753,"py":797,"ber":0.1143},{"px":762,"py":810,"ber":0.1098},{"px":707,"py":808,"ber":0.1053},{"px":759,"py":823,"ber":0.1053},{"px":843,"py":770,"ber":0.1188},{"px":866,"py":774,"ber":0.1143},{"px":827,"py":812,"ber":0.1008},{"px":841,"py":808,"ber":0.1008},{"px":786,"py":827,"ber":0.0963},{"px":954,"py":632,"ber":0.2088},{"px":934,"py":648,"ber":0.1953},{"px":889,"py":692,"ber":0.1818},{"px":895,"py":713,"ber":0.1503},{"px":893,"py":731,"ber":0.1503},{"px":612,"py":759,"ber":0.1953},{"px":633,"py":778,"ber":0.1683},{"px":645,"py":789,"ber":0.1503},{"px":667,"py":793,"ber":0.1323},{"px":685,"py":789,"ber":0.1278},{"px":653,"py":763,"ber":0.1593},{"px":663,"py":736,"ber":0.1953},{"px":683,"py":722,"ber":0.1953},{"px":708,"py":759,"ber":0.1773},{"px":600,"py":723,"ber":0.2223},{"px":573,"py":719,"ber":0.2178},{"px":733,"py":677,"ber":0.2178},{"px":753,"py":685,"ber":0.2133},{"px":667,"py":701,"ber":0.2178},{"px":628,"py":705,"ber":0.2223}],
"bar":[{"ber":0.0063},{"ber":0.0108},{"ber":0.0153},{"ber":0.0198},{"ber":0.0243},{"ber":0.0288},{"ber":0.0333},{"ber":0.0378},{"ber":0.0423},{"ber":0.0468},{"ber":0.0513},{"ber":0.0558},{"ber":0.0603},{"ber":0.0648},{"ber":0.0693},{"ber":0.0738},{"ber":0.0783},{"ber":0.0828},{"ber":0.0873},{"ber":0.0918},{"ber":0.0963},{"ber":0.1008},{"ber":0.1053},{"ber":0.1098},{"ber":0.1143},{"ber":0.1188},{"ber":0.1233},{"ber":0.1278},{"ber":0.1323},{"ber":0.1368},{"ber":0.1413},{"ber":0.1458},{"ber":0.1503},{"ber":0.1548},{"ber":0.1593},{"ber":0.1638},{"ber":0.1683},{"ber":0.1728},{"ber":0.1773},{"ber":0.1818},{"ber":0.1863},{"ber":0.1908},{"ber":0.1953},{"ber":0.1998},{"ber":0.2043},{"ber":0.2088},{"ber":0.2133},{"ber":0.2178},{"ber":0.2223},{"ber":0.2268},{"ber":0.2313},{"ber":0.2358},{"ber":0.2403},{"ber":0.2448},{"ber":0.2493},{"ber":0.2538},{"ber":0.2583},{"ber":0.2628},{"ber":0.2673},{"ber":0.2718},{"ber":0.2763},{"ber":0.2808},{"ber":0.2853},{"ber":0.2898}],
"barTicks":[{"ber":0.05},{"ber":0.1},{"ber":0.15},{"ber":0.2},{"ber":0.25}],
"barStray":[{"ber":0.0222,"label":"3"}]},
"layer":[
{"encoding":{"x":{"field":"px","type":"quantitative","axis":null,"scale":{"domain":[0,1722],"nice":false,"zero":false}},"y":{"field":"py","type":"quantitative","axis":null,"scale":{"domain":[0,1476],"reverse":true,"nice":false,"zero":false}}},
"data":{"name":"frame"},
"transform":[{"calculate":"255+102*datum.power+7.8*(40-datum.snr)","as":"px"},{"calculate":"1044-40.83*datum.power+5.35*(40-datum.snr)-1740*datum.ber","as":"py"}],
"layer":[
{"transform":[{"filter":"datum.kind=='dash'"}],"mark":{"type":"line","color":"black","strokeWidth":1.3,"strokeDash":[25,23]},"encoding":{"detail":{"field":"line"},"order":{"value":null}}},
{"transform":[{"filter":"datum.kind=='solid'"}],"mark":{"type":"line","color":"black","strokeWidth":1.5},"encoding":{"detail":{"field":"line"},"order":{"value":null}}},
{"data":{"name":"surface"},"mark":{"type":"line","filled":true,"interpolate":"linear-closed"},"encoding":{"detail":{"field":"band"},"order":{"value":null},"color":{"field":"ber","type":"quantitative","legend":null,"scale":{"type":"quantize","domain":[0.00406,0.2919],"range":["#00008F","#0000A0","#0000B0","#0000C0","#0000D0","#0000E0","#0000F0","#0000FF","#0000FF","#0020FF","#0030FF","#0040FF","#0050FF","#0060FF","#0070FF","#0080FF","#0090FF","#00A0FF","#00B0FF","#00C0FF","#00D0FF","#00E0FF","#00F0FF","#00FFFF","#00FFE0","#00FFD0","#00FFC0","#00FFB0","#00FFA0","#00FF90","#00FF80","#00FF70","#00FF60","#5FFF50","#7FFF30","#9FFF10","#BFFF00","#CFFF00","#EFFF00","#FFFF00","#FFF000","#FFDF00","#FFD000","#FFC000","#FFB000","#FFA000","#FF9000","#FF8000","#FF7800","#FF6800","#FF5800","#FF4800","#FF3000","#FF2000","#FF0000","#FF0000","#FF0000","#FF0000","#EF0000","#DF0000","#BF0000","#AF0000","#9F0000","#8F0000"]}}}},
{"data":{"name":"edge"},"mark":{"type":"line","strokeWidth":4},"encoding":{"order":{"value":null},"color":{"field":"ber","type":"quantitative","legend":null,"scale":{"type":"quantize","domain":[0.00406,0.2919],"range":["#00008F","#0000A0","#0000B0","#0000C0","#0000D0","#0000E0","#0000F0","#0000FF","#0000FF","#0020FF","#0030FF","#0040FF","#0050FF","#0060FF","#0070FF","#0080FF","#0090FF","#00A0FF","#00B0FF","#00C0FF","#00D0FF","#00E0FF","#00F0FF","#00FFFF","#00FFE0","#00FFD0","#00FFC0","#00FFB0","#00FFA0","#00FF90","#00FF80","#00FF70","#00FF60","#5FFF50","#7FFF30","#9FFF10","#BFFF00","#CFFF00","#EFFF00","#FFFF00","#FFF000","#FFDF00","#FFD000","#FFC000","#FFB000","#FFA000","#FF9000","#FF8000","#FF7800","#FF6800","#FF5800","#FF4800","#FF3000","#FF2000","#FF0000","#FF0000","#FF0000","#FF0000","#EF0000","#DF0000","#BF0000","#AF0000","#9F0000","#8F0000"]}}}},
{"data":{"name":"specks"},"mark":{"type":"point","filled":false,"shape":"M0.35,-1L-0.35,1","size":64,"strokeWidth":1.8,"opacity":1},"encoding":{"color":{"field":"ber","type":"quantitative","legend":null,"scale":{"type":"quantize","domain":[0.00406,0.2919],"range":["#00008F","#0000A0","#0000B0","#0000C0","#0000D0","#0000E0","#0000F0","#0000FF","#0000FF","#0020FF","#0030FF","#0040FF","#0050FF","#0060FF","#0070FF","#0080FF","#0090FF","#00A0FF","#00B0FF","#00C0FF","#00D0FF","#00E0FF","#00F0FF","#00FFFF","#00FFE0","#00FFD0","#00FFC0","#00FFB0","#00FFA0","#00FF90","#00FF80","#00FF70","#00FF60","#5FFF50","#7FFF30","#9FFF10","#BFFF00","#CFFF00","#EFFF00","#FFFF00","#FFF000","#FFDF00","#FFD000","#FFC000","#FFB000","#FFA000","#FF9000","#FF8000","#FF7800","#FF6800","#FF5800","#FF4800","#FF3000","#FF2000","#FF0000","#FF0000","#FF0000","#FF0000","#EF0000","#DF0000","#BF0000","#AF0000","#9F0000","#8F0000"]}}}},
{"transform":[{"filter":"datum.kind=='berLabel'"}],"mark":{"type":"text","font":"Liberation Mono","fontSize":70,"align":"right","baseline":"middle","dx":-35,"dy":-12,"color":"black"},"encoding":{"text":{"field":"label"}}},
{"transform":[{"filter":"datum.kind=='snrLabel'"}],"mark":{"type":"text","font":"Liberation Mono","fontSize":70,"align":"right","baseline":"middle","dx":-34,"dy":53,"color":"black"},"encoding":{"text":{"field":"label"}}},
{"transform":[{"filter":"datum.kind=='powLabel'"}],"mark":{"type":"text","font":"Liberation Mono","fontSize":70,"align":"center","baseline":"middle","dx":46,"dy":57,"color":"black"},"encoding":{"text":{"field":"label"}}},
{"transform":[{"filter":"datum.kind=='mult'"}],"mark":{"type":"text","font":"Liberation Serif","fontSize":78,"align":"center","baseline":"middle","dx":16,"dy":207,"color":"black"},"encoding":{"text":{"field":"label"}}},
{"transform":[{"filter":"datum.kind=='snrTitle'"}],"mark":{"type":"text","font":"Liberation Sans","fontSize":48.5,"align":"center","baseline":"middle","dx":-140,"dy":196,"color":"black"},"encoding":{"text":{"field":"label"}}},
{"transform":[{"filter":"datum.kind=='powTitle'"}],"mark":{"type":"text","font":"Liberation Sans","fontSize":48.5,"align":"center","baseline":"middle","dx":252,"dy":177,"color":"black"},"encoding":{"text":{"field":"label"}}},
{"transform":[{"filter":"datum.kind=='berTitle'"}],"mark":{"type":"text","font":"Liberation Sans","fontSize":48.5,"align":"center","baseline":"middle","angle":270,"dx":-9,"dy":-222,"color":"black"},"encoding":{"text":{"field":"label"}}}
]},
{"encoding":{"x":{"datum":0.5,"axis":null,"scale":{"domain":[0,1.5],"range":[1413,1560]}}},
"layer":[
{"data":{"name":"bar"},"mark":{"type":"tick","orient":"horizontal","thickness":20,"size":98,"opacity":1},"encoding":{"y":{"field":"ber","type":"quantitative","scale":{"domain":[0.00406,0.2926],"range":[1362,99.5],"nice":false,"zero":false},"axis":{"orient":"right","offset":-211,"values":[0.05,0.1,0.15,0.2,0.25],"format":".2~f","ticks":false,"domain":false,"grid":false,"title":null,"labelFont":"Liberation Mono","labelFontSize":70,"labelColor":"black","labelPadding":15,"labelOffset":4}},"color":{"field":"ber","type":"quantitative","legend":null,"scale":{"type":"quantize","domain":[0.00406,0.2919],"range":["#00008F","#0000A0","#0000B0","#0000C0","#0000D0","#0000E0","#0000F0","#0000FF","#0000FF","#0020FF","#0030FF","#0040FF","#0050FF","#0060FF","#0070FF","#0080FF","#0090FF","#00A0FF","#00B0FF","#00C0FF","#00D0FF","#00E0FF","#00F0FF","#00FFFF","#00FFE0","#00FFD0","#00FFC0","#00FFB0","#00FFA0","#00FF90","#00FF80","#00FF70","#00FF60","#5FFF50","#7FFF30","#9FFF10","#BFFF00","#CFFF00","#EFFF00","#FFFF00","#FFF000","#FFDF00","#FFD000","#FFC000","#FFB000","#FFA000","#FF9000","#FF8000","#FF7800","#FF6800","#FF5800","#FF4800","#FF3000","#FF2000","#FF0000","#FF0000","#FF0000","#FF0000","#EF0000","#DF0000","#BF0000","#AF0000","#9F0000","#8F0000"]}}}},
{"data":{"name":"barTicks"},"mark":{"type":"rule","color":"black","strokeWidth":1.5},"encoding":{"x":{"datum":0},"x2":{"datum":0.12},"y":{"field":"ber","type":"quantitative"}}},
{"data":{"name":"barTicks"},"mark":{"type":"rule","color":"black","strokeWidth":1.5},"encoding":{"x":{"datum":0.88},"x2":{"datum":1},"y":{"field":"ber","type":"quantitative"}}},
{"data":{"name":"barStray"},"mark":{"type":"rule","color":"black","strokeWidth":1.5},"encoding":{"x":{"datum":1},"x2":{"datum":1.1},"y":{"field":"ber","type":"quantitative"}}},
{"data":{"name":"barStray"},"mark":{"type":"text","font":"Liberation Sans","fontSize":21,"color":"black","align":"center","baseline":"middle"},"encoding":{"x":{"datum":1.347},"y":{"field":"ber","type":"quantitative"},"text":{"field":"label"}}},
{"data":{"values":[{"lo":0.00406,"hi":0.2926}]},"mark":{"type":"rect","filled":false,"stroke":"black","strokeWidth":1.5},"encoding":{"x":{"datum":0},"x2":{"datum":1},"y":{"field":"lo","type":"quantitative"},"y2":{"field":"hi"}}}
]}
],
"resolve":{"scale":{"x":"independent","y":"independent"}}}
